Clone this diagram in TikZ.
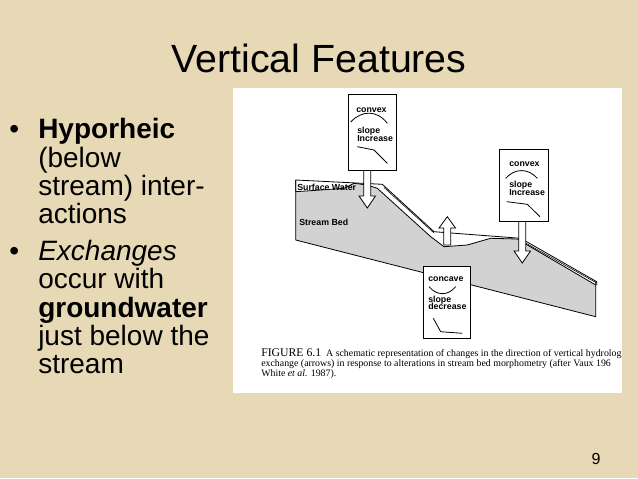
\documentclass[tikz,border=0pt]{standalone}
\usepackage{fontspec}
\setmainfont{Liberation Sans}
\newfontfamily\capfont{Liberation Serif}
\definecolor{parch}{RGB}{232,217,182}
\begin{document}
\begin{tikzpicture}[x=0.75pt,y=-0.75pt,
  lbl/.style={font=\bfseries\fontsize{6.6}{7}\selectfont,anchor=west,inner sep=0},
  bul/.style={font=\fontsize{21}{24}\selectfont,anchor=base west,inner sep=0},
  capt/.style={font=\capfont\fontsize{7.4}{8}\selectfont,anchor=base west,inner sep=0},
  infobox/.style={draw=black,fill=white,line width=0.7pt},
  blockarrow/.style={draw=black,fill=white,line width=0.6pt}]
\fill[parch] (0,0) rectangle (638,478);
\useasboundingbox (0,0) rectangle (638,478);
\node[font=\fontsize{29.5}{33}\selectfont,anchor=base] (title) at (319,73) {Vertical Features};
% bullets
\node[bul] (b1) at (9,138) {•};
\node[bul] (t1) at (38,138) {\textbf{Hyporheic}};
\node[bul] (t2) at (38,167) {(below};
\node[bul] (t3) at (38,195) {stream) inter-};
\node[bul] (t4) at (38,223) {actions};
\node[bul] (b2) at (9,260) {•};
\node[bul] (t5) at (38,260) {\textit{Exchanges}};
\node[bul] (t6) at (38,288) {occur with};
\node[bul] (t7) at (38,317) {\textbf{groundwater}};
\node[bul] (t8) at (38,345) {just below the};
\node[bul] (t9) at (38,373) {stream};
\node[font=\fontsize{12}{14}\selectfont,anchor=base] (pg) at (596,464) {9};
% figure
\fill[white] (233,88) rectangle (622,393);
\begin{scope}
\clip (233,88) rectangle (622,393);
% water
\draw[line width=0.6pt] (295.7,191.7) -- (295.7,180) -- (382.3,184.3) -- (434,231.7) -- (520.7,238.3) -- (596.7,281.7) -- (596.7,285);
\fill[gray!35] (295.7,191.7) -- (320.7,190) -- (344,188.3) -- (354,183.3) -- (367.3,185) -- (377.3,188.3) -- (430.7,236.7) -- (444,246.7) -- (467.3,245) -- (490.7,238.3) -- (517.3,239) -- (527.3,245) -- (595.7,285) -- (595.7,316.7) -- (295.7,240) -- cycle;
\draw[line width=0.6pt] (295.7,191.7) -- (320.7,190) -- (344,188.3) -- (354,183.3) -- (367.3,185) -- (377.3,188.3) -- (430.7,236.7) -- (444,246.7) -- (467.3,245) -- (490.7,238.3) -- (517.3,239) -- (527.3,245) -- (595.7,285);
\draw[line width=0.6pt] (295.7,180) -- (295.7,240) -- (595.7,316.7) -- (595.7,281.7);
\draw[line width=0.4pt] (384,187.5) -- (434,233) (522,241) -- (596.7,283);
\node[lbl] (sw) at (297,187) {Surface Water};
\node[lbl] (sb) at (299,222) {Stream Bed};
% arrows
\draw[blockarrow] (363.8,166) -- (370.8,166) -- (370.8,196) -- (375.5,196) -- (367.3,208) -- (359,196) -- (363.8,196) -- cycle;
\draw[blockarrow] (443.8,245) -- (450.8,245) -- (450.8,228) -- (455.5,228) -- (447.3,216.7) -- (439,228) -- (443.8,228) -- cycle;
\draw[blockarrow] (518.8,220) -- (525.8,220) -- (525.8,251) -- (530.5,251) -- (522.3,263) -- (514,251) -- (518.8,251) -- cycle;
% boxes
\draw[infobox] (348.3,94) rectangle (396,170);
\node[lbl] (c1) at (356,110) {convex};
\draw[line width=0.6pt] (350.7,122) .. controls (362,110) and (377,110) .. (387.3,123.3);
\node[lbl] (s1) at (357,131.7) {slope};
\node[lbl] (i1) at (357,138.5) {Increase};
\draw[line width=0.6pt] (357.3,146.7) -- (374,150) -- (387.3,163.3);
\draw[infobox] (499.7,149.3) rectangle (548,221.7);
\node[lbl] (c2) at (509,164.3) {convex};
\draw[line width=0.6pt] (505.7,178.3) .. controls (515,168) and (528,168) .. (537.3,178.3);
\node[lbl] (s2) at (509,185) {slope};
\node[lbl] (i2) at (509,192.3) {Increase};
\draw[line width=0.6pt] (506.7,201.7) -- (527.3,204.3) -- (540,216.7);
\draw[infobox] (423,266) rectangle (470.7,338.3);
\node[lbl] (c3) at (428,279) {concave};
\draw[line width=0.6pt] (429,286.7) .. controls (437,296) and (448,296) .. (455.7,286.7);
\node[lbl] (s3) at (428,300) {slope};
\node[lbl] (d3) at (428,306.7) {decrease};
\draw[line width=0.6pt] (433.3,318.3) -- (440.7,331.7) -- (462.3,333.3);
% caption
\node[capt] (cap1) at (261,356) {{\fontsize{8.8}{9}\selectfont FIGURE 6.1}\ \ A schematic representation of changes in the direction of vertical hydrolog};
\node[capt] (cap2) at (261,366) {exchange (arrows) in response to alterations in stream bed morphometry (after Vaux 196};
\node[capt] (cap3) at (261,376) {White \textit{et al.} 1987).};
\end{scope}
\end{tikzpicture}
\end{document}
